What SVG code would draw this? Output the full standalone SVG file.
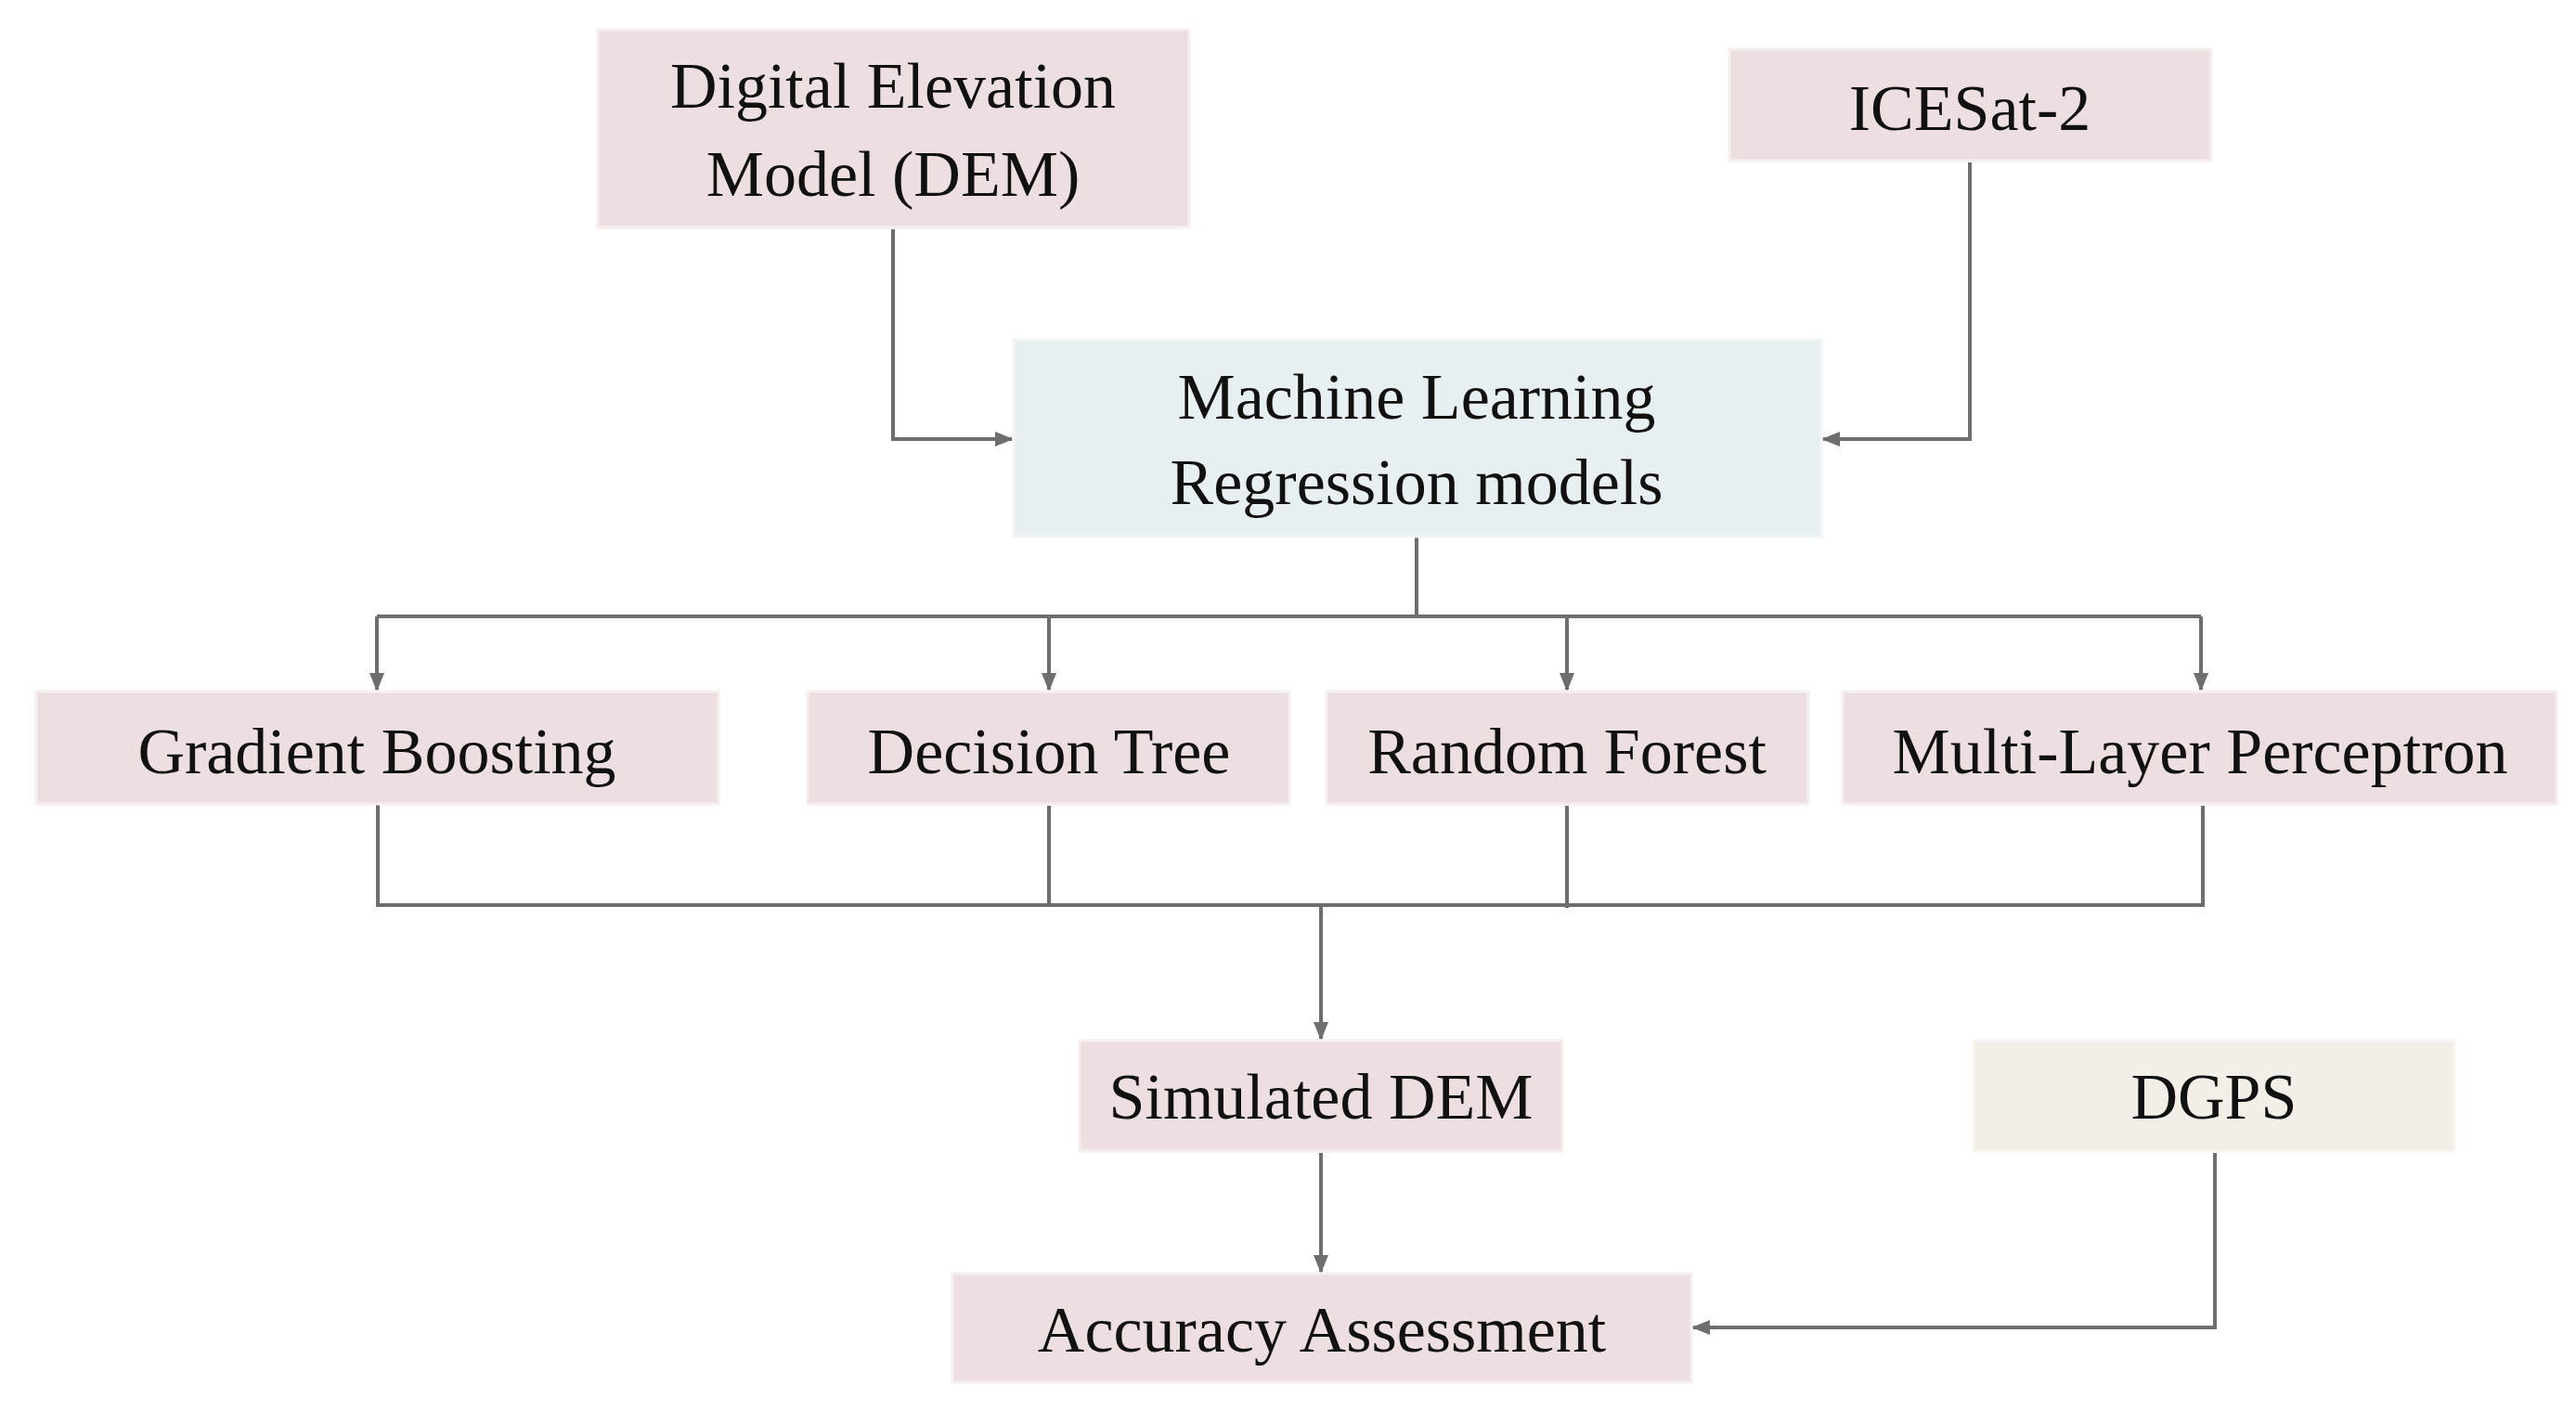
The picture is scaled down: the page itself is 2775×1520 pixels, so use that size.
<svg xmlns="http://www.w3.org/2000/svg" width="2775" height="1520" viewBox="0 0 2775 1520">
<style>
.b{fill:#eddfe1;stroke:#f6eeef;stroke-width:3}
.t{font-family:"Liberation Serif",serif;font-size:70px;fill:#111;text-anchor:middle;dominant-baseline:central}
.c{fill:none;stroke:#6e6e70;stroke-width:4}
</style>
<defs><marker id="a" markerWidth="8" markerHeight="8" refX="7" refY="4" orient="auto" markerUnits="userSpaceOnUse" viewBox="0 0 8 8"><path d="M0,0L8,4L0,8z" fill="#6e6e70" transform="scale(1)"/></marker>
<marker id="h" markerWidth="20" markerHeight="20" refX="18" refY="10" orient="auto" markerUnits="userSpaceOnUse"><path d="M0,2L20,10L0,18z" fill="#6e6e70"/></marker></defs>
<rect width="2775" height="1520" fill="#fff"/>
<g id="connectors">
<path class="c" d="M962,247V473H1090" marker-end="url(#h)"/>
<path class="c" d="M2122,175V473H1964" marker-end="url(#h)"/>
<path class="c" d="M1526,578V664"/>
<path class="c" d="M406,664H2371"/>
<path class="c" d="M406,664V743" marker-end="url(#h)"/>
<path class="c" d="M1130,664V743" marker-end="url(#h)"/>
<path class="c" d="M1688,664V743" marker-end="url(#h)"/>
<path class="c" d="M2371,664V743" marker-end="url(#h)"/>
<path class="c" d="M407,866V975H2373V868"/>
<path class="c" d="M1130,868V975M1688,868V978"/>
<path class="c" d="M1423,975V1119" marker-end="url(#h)"/>
<path class="c" d="M1423,1242V1370" marker-end="url(#h)"/>
<path class="c" d="M2386,1242V1430H1824" marker-end="url(#h)"/>
</g>
<g id="dem"><rect class="b" x="644" y="32" width="637" height="213"/><text class="t" x="962" y="92">Digital Elevation</text><text class="t" x="962" y="187">Model (DEM)</text></g>
<g id="icesat"><rect class="b" x="1863" y="53" width="519" height="120"/><text class="t" x="2122" y="116">ICESat-2</text></g>
<g id="ml"><rect x="1092" y="366" width="870" height="212" fill="#e8eff1" stroke="#f1f5f6" stroke-width="3"/><text class="t" x="1526" y="427">Machine Learning</text><text class="t" x="1526" y="519">Regression models</text></g>
<g id="gb"><rect class="b" x="39" y="745" width="735" height="121"/><text class="t" x="406" y="809">Gradient Boosting</text></g>
<g id="dt"><rect class="b" x="870" y="745" width="519" height="121"/><text class="t" x="1130" y="809">Decision Tree</text></g>
<g id="rf"><rect class="b" x="1429" y="745" width="519" height="121"/><text class="t" x="1688" y="809">Random Forest</text></g>
<g id="mlp"><rect class="b" x="1985" y="745" width="769" height="121"/><text class="t" x="2370" y="809">Multi-Layer Perceptron</text></g>
<g id="sim"><rect class="b" x="1163" y="1121" width="520" height="119"/><text class="t" x="1423" y="1181">Simulated DEM</text></g>
<g id="dgps"><rect x="2126" y="1121" width="518" height="119" fill="#f2eee8" stroke="#f8f6f2" stroke-width="3"/><text class="t" x="2385" y="1181">DGPS</text></g>
<g id="acc"><rect class="b" x="1026" y="1372" width="796" height="117"/><text class="t" x="1424" y="1432">Accuracy Assessment</text></g>
</svg>
